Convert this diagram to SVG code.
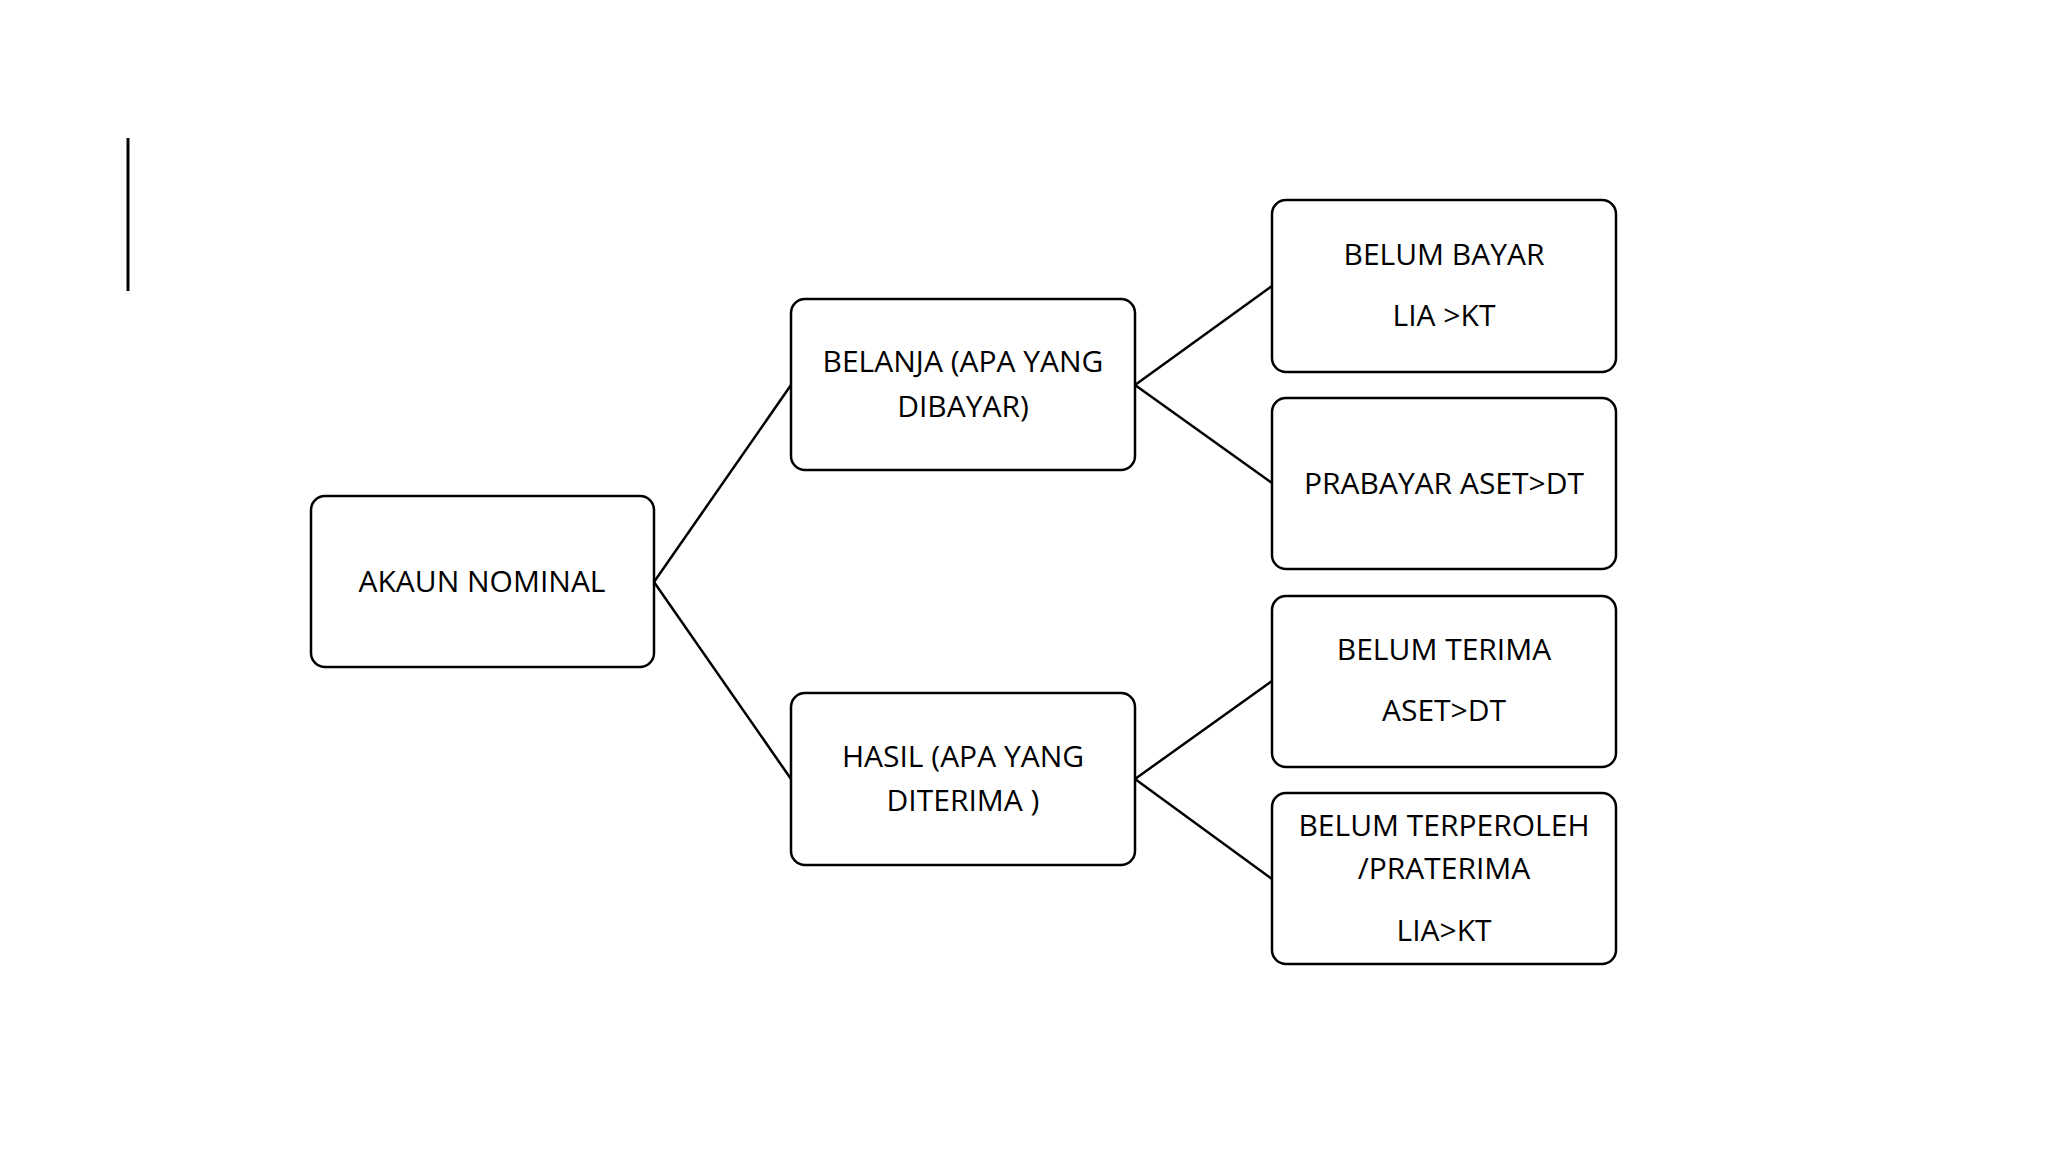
<svg xmlns="http://www.w3.org/2000/svg" width="2048" height="1152" viewBox="0 0 2048 1152">
<style>
.b{fill:#fff;stroke:#000;stroke-width:2.5}
text{font-family:"Open Sans","DejaVu Sans",sans-serif;font-size:30px;text-anchor:middle;fill:#000}
.c line{stroke:#000;stroke-width:2.5}
</style>
<rect width="2048" height="1152" fill="#fff"/>
<line x1="128" y1="138" x2="128" y2="291" stroke="#000" stroke-width="3"/>
<g class="c" id="connectors">
<line x1="654" y1="582" x2="791" y2="385"/>
<line x1="654" y1="582" x2="791" y2="779"/>
<line x1="1135" y1="385" x2="1272" y2="286"/>
<line x1="1135" y1="385" x2="1272" y2="483"/>
<line x1="1135" y1="779" x2="1272" y2="681"/>
<line x1="1135" y1="779" x2="1272" y2="879"/>
</g>
<g id="akaun"><rect class="b" x="311" y="496" width="343" height="171" rx="14"/><text x="482" y="592">AKAUN NOMINAL</text></g>
<g id="belanja"><rect class="b" x="791" y="299" width="344" height="171" rx="14"/><text x="963" y="372">BELANJA (APA YANG</text><text x="963" y="417">DIBAYAR)</text></g>
<g id="hasil"><rect class="b" x="791" y="693" width="344" height="172" rx="14"/><text x="963" y="767">HASIL (APA YANG</text><text x="963" y="811">DITERIMA )</text></g>
<g id="belumbayar"><rect class="b" x="1272" y="200" width="344" height="172" rx="14"/><text x="1444" y="265">BELUM BAYAR</text><text x="1444" y="326">LIA &gt;KT</text></g>
<g id="prabayar"><rect class="b" x="1272" y="398" width="344" height="171" rx="14"/><text x="1444" y="494">PRABAYAR ASET&gt;DT</text></g>
<g id="belumterima"><rect class="b" x="1272" y="596" width="344" height="171" rx="14"/><text x="1444" y="660">BELUM TERIMA</text><text x="1444" y="721">ASET&gt;DT</text></g>
<g id="terperoleh"><rect class="b" x="1272" y="793" width="344" height="171" rx="14"/><text x="1444" y="836">BELUM TERPEROLEH</text><text x="1444" y="879">/PRATERIMA</text><text x="1444" y="941">LIA&gt;KT</text></g>
</svg>
